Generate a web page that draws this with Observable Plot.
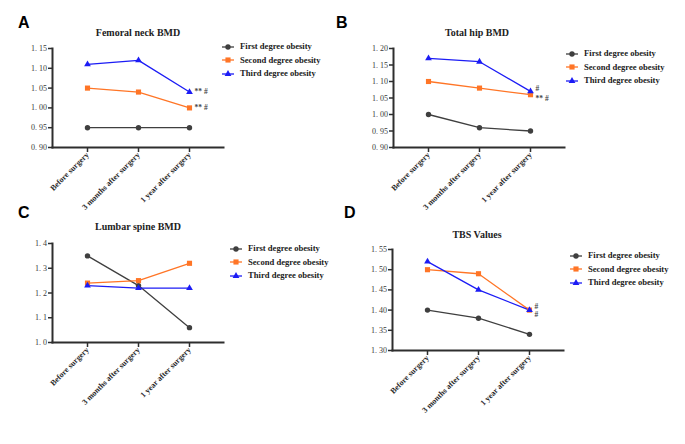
<!DOCTYPE html>
<html><head><meta charset="utf-8">
<script src="https://cdn.jsdelivr.net/npm/d3@7"></script>
<script src="https://cdn.jsdelivr.net/npm/@observablehq/plot@0.6"></script>
<style>
body{margin:0;background:#fff;}
#root{position:relative;width:685px;height:444px;overflow:hidden;font-family:"Liberation Serif","Times New Roman",serif;color:#222;}
.panel{position:absolute;}
.panel svg{overflow:visible;}
.letter{position:absolute;font-family:"Liberation Sans",Arial,sans-serif;font-weight:bold;font-size:16px;line-height:16px;color:#000;}
.title{position:absolute;font-weight:bold;font-size:10px;line-height:10px;transform:translateX(-50%);white-space:nowrap;color:#222;}
.legend{position:absolute;font-weight:bold;font-size:8.6px;white-space:nowrap;color:#222;}
.legend .row{height:13.5px;line-height:13.5px;display:flex;align-items:center;}
.legend svg{margin-right:6px;}
g[aria-label="x-axis tick label"] text{font-weight:bold;}
</style></head><body><div id="root"></div>
<script>
// ---------- data ----------
const timepoints = ["Before surgery", "3 months after surgery", "1 year after surgery"];
const seriesNames = ["First degree obesity", "Second degree obesity", "Third degree obesity"];

const femoralFirst  = [0.95, 0.95, 0.95];
const femoralSecond = [1.05, 1.04, 1.00];
const femoralThird  = [1.11, 1.12, 1.04];
const femoralTicks = [0.90, 0.95, 1.00, 1.05, 1.10, 1.15];
const femoralTickLabels = ["0. 90", "0. 95", "1. 00", "1. 05", "1. 10", "1. 15"];
const femoralNotes = ["", "** #", "** #"];

const hipFirst  = [1.00, 0.96, 0.95];
const hipSecond = [1.10, 1.08, 1.06];
const hipThird  = [1.17, 1.16, 1.07];
const hipTicks = [0.90, 0.95, 1.00, 1.05, 1.10, 1.15, 1.20];
const hipTickLabels = ["0. 90", "0. 95", "1. 00", "1. 05", "1. 10", "1. 15", "1. 20"];
const hipNotes = ["", "** #", "#"];

const lumbarFirst  = [1.35, 1.23, 1.06];
const lumbarSecond = [1.24, 1.25, 1.32];
const lumbarThird  = [1.23, 1.22, 1.22];
const lumbarTicks = [1.0, 1.1, 1.2, 1.3, 1.4];
const lumbarTickLabels = ["1. 0", "1. 1", "1. 2", "1. 3", "1. 4"];
const lumbarNotes = ["", "", ""];

const tbsFirst  = [1.40, 1.38, 1.34];
const tbsSecond = [1.50, 1.49, 1.40];
const tbsThird  = [1.52, 1.45, 1.40];
const tbsTicks = [1.30, 1.35, 1.40, 1.45, 1.50, 1.55];
const tbsTickLabels = ["1. 30", "1. 35", "1. 40", "1. 45", "1. 50", "1. 55"];
const tbsNotes = ["", "#", "#"];

// ---------- styles ----------
const seriesColors = ["#3f3f3f", "#ff7526", "#1c1cf5"];
const seriesSymbols = ["circle", "square", "triangle"];
const symbolR = [2.7, 2.9, 2.5];

const panels = [
  {letter: "A", title: "Femoral neck BMD", series: [femoralFirst, femoralSecond, femoralThird],
   ticks: femoralTicks, tickLabels: femoralTickLabels, notes: femoralNotes, noteDy: [0, 0, 0],
   left: 0, top: 0, w: 240, h: 222, ml: 52, mr: 17, mt: 48, mb: 75,
   letterPos: [18, 15], titlePos: [138, 28], legendPos: [222, 40]},
  {letter: "B", title: "Total hip BMD", series: [hipFirst, hipSecond, hipThird],
   ticks: hipTicks, tickLabels: hipTickLabels, notes: hipNotes, noteDy: [0, 4, -3],
   left: 342, top: 0, w: 240, h: 222, ml: 51, mr: 18, mt: 48, mb: 75,
   letterPos: [336, 15], titlePos: [477, 28], legendPos: [566, 47]},
  {letter: "C", title: "Lumbar spine BMD", series: [lumbarFirst, lumbarSecond, lumbarThird],
   ticks: lumbarTicks, tickLabels: lumbarTickLabels, notes: lumbarNotes, noteDy: [0, 0, 0],
   left: 0, top: 222, w: 240, h: 222, ml: 52, mr: 17, mt: 21, mb: 102,
   letterPos: [18, 205], titlePos: [138, 222], legendPos: [230, 242]},
  {letter: "D", title: "TBS Values", series: [tbsFirst, tbsSecond, tbsThird],
   ticks: tbsTicks, tickLabels: tbsTickLabels, notes: tbsNotes, noteDy: [0, 4, -4],
   left: 342, top: 222, w: 240, h: 222, ml: 50, mr: 19, mt: 27, mb: 94,
   letterPos: [344, 205], titlePos: [477, 230], legendPos: [570, 249]}
];

const root = document.getElementById("root");

function makePanel(cfg) {
  const rows = [];
  cfg.series.forEach((vals, si) => vals.forEach((v, ti) => rows.push({t: timepoints[ti], v, s: seriesNames[si], si})));
  const notes = [];
  cfg.notes.forEach((lab, si) => { if (lab) notes.push({t: timepoints[2], v: cfg.series[si][2], lab, dy: cfg.noteDy[si]}); });
  const labelOf = new Map(cfg.ticks.map((t, i) => [t, cfg.tickLabels[i]]));
  const yMin = cfg.ticks[0], yMax = cfg.ticks[cfg.ticks.length - 1];

  const marks = [
    Plot.axisY({ticks: cfg.ticks, tickFormat: d => labelOf.get(d), tickSize: 4, tickPadding: 1.5,
      fontSize: 8, stroke: "#2e2e2e", strokeWidth: 1.5, fill: "#3a3a3a", label: null}),
    Plot.axisX({tickRotate: -45, tickSize: 5, tickPadding: 1, fontSize: 8, fontWeight: "bold",
      stroke: "#2e2e2e", strokeWidth: 1.5, fill: "#2a2a2a", label: null}),
    Plot.frame({anchor: "left", stroke: "#2e2e2e", strokeWidth: 2}),
    Plot.frame({anchor: "bottom", stroke: "#2e2e2e", strokeWidth: 2}),
    Plot.line(rows, {x: "t", y: "v", z: "s", stroke: "s", strokeWidth: 1.3}),
  ];
  seriesNames.forEach((name, si) => {
    marks.push(Plot.dot(rows.filter(r => r.si === si), {x: "t", y: "v", fill: "s", symbol: "s", r: symbolR[si], stroke: "none"}));
  });
  notes.forEach(n => marks.push(Plot.text([n], {x: "t", y: "v", text: "lab", dx: 5, dy: n.dy, textAnchor: "start",
    fontSize: 7.5, fill: "#444", fontWeight: "bold"})));

  const plot = Plot.plot({
    width: cfg.w, height: cfg.h,
    marginLeft: cfg.ml, marginRight: cfg.mr, marginTop: cfg.mt, marginBottom: cfg.mb,
    style: {fontFamily: "'Liberation Serif','Times New Roman',serif", background: "transparent", overflow: "visible"},
    x: {type: "point", domain: timepoints, padding: 0.676},
    y: {domain: [yMin, yMax]},
    color: {domain: seriesNames, range: seriesColors},
    symbol: {domain: seriesNames, range: seriesSymbols},
    marks
  });
  const div = document.createElement("div");
  div.className = "panel";
  div.style.left = cfg.left + "px";
  div.style.top = cfg.top + "px";
  div.appendChild(plot);
  root.appendChild(div);

  const letter = document.createElement("div");
  letter.className = "letter";
  letter.textContent = cfg.letter;
  letter.style.left = cfg.letterPos[0] + "px";
  letter.style.top = cfg.letterPos[1] + "px";
  root.appendChild(letter);

  const title = document.createElement("div");
  title.className = "title";
  title.textContent = cfg.title;
  title.style.left = cfg.titlePos[0] + "px";
  title.style.top = cfg.titlePos[1] + "px";
  root.appendChild(title);

  const legend = document.createElement("div");
  legend.className = "legend";
  legend.style.left = cfg.legendPos[0] + "px";
  legend.style.top = cfg.legendPos[1] + "px";
  seriesNames.forEach((name, si) => {
    const row = document.createElement("div");
    row.className = "row";
    const sym = d3.symbol(si === 0 ? d3.symbolCircle : si === 1 ? d3.symbolSquare : d3.symbolTriangle, Math.PI * symbolR[si] ** 2)();
    row.innerHTML = `<svg width="12" height="8" viewBox="0 0 12 8"><line x1="0" x2="12" y1="4" y2="4" stroke="${seriesColors[si]}" stroke-width="1.3"/><path d="${sym}" transform="translate(6,4)" fill="${seriesColors[si]}"/></svg><span>${name}</span>`;
    legend.appendChild(row);
  });
  root.appendChild(legend);
}

panels.forEach(makePanel);
</script>
</body></html>
